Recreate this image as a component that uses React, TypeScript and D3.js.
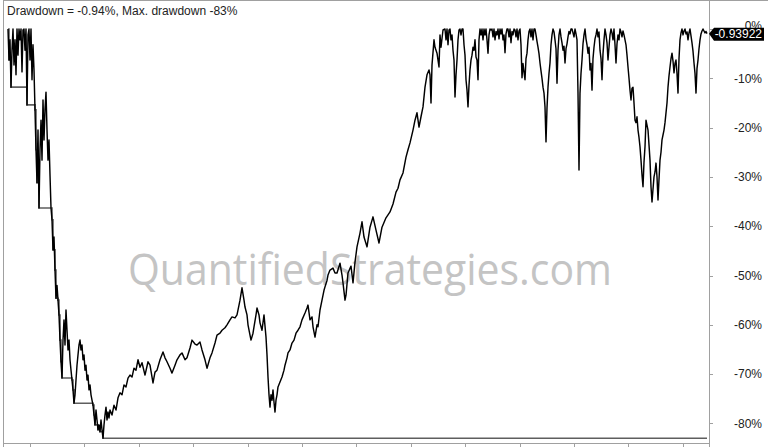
import React from 'react';
import * as d3 from 'd3';

const W = 768;
const H = 447;

const titleText = 'Drawdown = -0.94%, Max. drawdown -83%';
const lastValueLabel = '-0.93922';
const lastValue = -0.94;
const watermarkText = 'QuantifiedStrategies.com';
const yTickValues = [0, -10, -20, -30, -40, -50, -60, -70, -80];
const xTickWeeks = [22, 76, 131, 185, 240, 294, 348, 403, 457, 512, 566, 620, 675];

// [week index, drawdown %]
const drawdownSeries: [number, number][] = [
  [0, 0], [1, -6.3], [2, -2.2], [3, -11.8], [4, -4.3], [5, 0], [6, -7.3], [7, -2.2], [8, -9.3], [9, 0],
  [10, -5.3], [11, 0], [12, -2.2], [13, 0], [14, -8.7], [15, -0.2], [16, 0], [17, -4.3], [18, 0], [19, -15.4],
  [20, -1.2], [21, 0], [22, -6.3], [23, 0], [24, -10.3], [25, -3.2], [26, -8.3], [27, -16.4], [28, -24.5], [29, -31.2],
  [30, -20.5], [31, -36.3], [32, -24.5], [33, -18.5], [34, -26.6], [35, -14.4], [36, -22.5], [37, -16.4], [38, -12.8], [39, -20.5],
  [40, -26.6], [41, -22.5], [42, -29.6], [43, -36.3], [44, -38.7], [45, -44.8], [46, -42.2], [47, -48.9], [48, -54.6], [49, -52.0],
  [50, -55.0], [51, -58.0], [52, -63.1], [53, -67.5], [54, -70.8], [55, -63.1], [56, -59.0], [57, -64.1], [58, -57.0], [59, -61.1],
  [60, -65.1], [61, -63.1], [62, -67.1], [63, -69.2], [64, -71.2], [65, -73.2], [66, -75.9], [67, -74.2], [68, -71.2], [69, -68.2],
  [70, -66.1], [71, -64.1], [72, -63.1], [73, -65.1], [74, -64.1], [75, -67.1], [76, -66.1], [77, -69.2], [78, -68.2], [79, -71.2],
  [80, -70.2], [81, -73.2], [82, -72.2], [83, -74.2], [84, -75.3], [85, -76.3], [86, -78.3], [87, -80.3], [88, -77.3], [89, -79.3],
  [90, -81.3], [91, -80.3], [92, -81.7], [93, -79.3], [94, -81.3], [95, -83.0], [96, -80.3], [97, -78.3], [98, -76.7], [99, -79.3],
  [100, -77.7], [101, -78.9], [102, -77.3], [104, -78.3], [106, -76.3], [108, -77.3], [110, -74.8], [112, -73.8], [114, -74.2], [116, -72.2],
  [118, -72.6], [120, -70.8], [122, -70.2], [124, -70.6], [126, -68.8], [128, -69.2], [130, -67.1], [132, -68.6], [134, -67.7], [137, -70.2],
  [140, -67.5], [142, -68.2], [145, -71.8], [147, -69.6], [149, -69.2], [152, -67.1], [155, -65.5], [157, -66.7], [159, -67.5], [162, -68.8],
  [164, -69.8], [167, -68.2], [169, -67.1], [172, -66.1], [174, -65.7], [177, -67.1], [179, -66.7], [182, -64.7], [184, -63.1], [187, -63.9],
  [189, -64.1], [192, -63.5], [194, -65.1], [197, -67.1], [199, -68.8], [202, -66.7], [204, -65.7], [207, -63.7], [209, -62.1], [212, -61.7],
  [214, -61.1], [217, -60.6], [219, -60.0], [222, -59.0], [224, -58.4], [227, -58.6], [229, -58.0], [231, -56.0], [232, -55.0], [234, -52.5],
  [236, -55.0], [237, -56.4], [239, -58.0], [240, -60.0], [242, -62.1], [243, -63.1], [245, -61.7], [246, -60.4], [248, -58.0], [249, -56.6],
  [251, -58.0], [252, -59.6], [254, -61.1], [256, -58.0], [258, -62.5], [259, -66.1], [260, -70.6], [261, -74.2], [262, -76.7], [263, -74.2],
  [264, -75.3], [265, -73.2], [266, -75.7], [267, -77.7], [268, -75.3], [269, -74.2], [270, -72.6], [272, -71.6], [274, -70.6], [276, -69.2],
  [277, -68.2], [279, -66.7], [280, -65.7], [282, -65.1], [284, -63.7], [286, -63.1], [288, -61.7], [290, -61.1], [292, -60.4], [294, -59.0],
  [297, -57.6], [299, -56.6], [300, -56.0], [302, -59.0], [304, -58.4], [305, -60.4], [307, -62.5], [309, -60.0], [310, -60.4], [312, -57.0],
  [314, -55.0], [316, -53.0], [317, -52.3], [319, -51.0], [320, -49.9], [322, -48.9], [325, -48.5], [327, -49.5], [329, -49.5], [332, -47.5],
  [334, -49.9], [335, -51.5], [337, -55.0], [338, -54.0], [340, -49.5], [343, -48.1], [345, -51.5], [347, -47.3], [349, -44.2], [352, -41.4],
  [354, -39.1], [356, -42.2], [359, -44.2], [362, -40.2], [365, -38.1], [368, -40.8], [371, -43.4], [374, -40.2], [378, -38.3], [382, -37.1],
  [385, -35.5], [388, -33.1], [390, -32.3], [392, -30.6], [395, -29.2], [398, -26.0], [400, -24.5], [402, -23.1], [405, -20.5], [407, -18.5],
  [409, -17.0], [411, -19.9], [413, -17.8], [415, -15.8], [417, -11.8], [419, -9.3], [421, -8.3], [422, -9.3], [423, -15.0], [424, -7.3],
  [426, -2.2], [427, -3.7], [429, -4.9], [431, -7.7], [432, -1.2], [433, -3.7], [435, -0.2], [437, 0], [438, -2.2], [439, 0],
  [440, -3.2], [441, -0.2], [442, 0], [443, -2.2], [444, -1.2], [445, -4.3], [446, -6.3], [447, -13.8], [448, -9.3], [449, -6.3],
  [450, -2.2], [451, -0.2], [452, 0], [453, -1.2], [454, 0], [455, 0], [456, -3.2], [457, -5.3], [458, -10.3], [459, -12.4],
  [460, -15.8], [461, -11.4], [462, -8.3], [463, -6.3], [464, -5.3], [465, -3.7], [466, -4.3], [467, -2.2], [468, -5.7], [469, -6.3],
  [470, -10.3], [471, -2.2], [472, 0], [473, -1.2], [474, 0], [475, -2.2], [476, 0], [477, -1.2], [478, 0], [479, -2.2],
  [480, -4.9], [481, -1.2], [482, 0], [483, -0.2], [484, 0], [485, -1.6], [486, 0], [487, -2.2], [488, -0.5], [489, -1.2],
  [490, 0], [491, -2.0], [492, 0], [493, -1.0], [494, 0], [495, -2.2], [496, -1.2], [497, -4.8], [498, -1.0], [499, 0],
  [500, 0], [501, -1.6], [502, 0], [503, -2.8], [504, -0.5], [505, -1.2], [506, 0], [507, -0.2], [508, -1.6], [509, 0],
  [510, -2.2], [511, -0.4], [512, 0], [513, -3.2], [514, -9.9], [515, -7.0], [516, -8.7], [517, -10.3], [518, -6.0], [519, -4.9],
  [520, -2.2], [521, -0.5], [522, 0], [523, -1.6], [524, 0], [525, -2.2], [526, 0], [527, 0], [528, -1.2], [529, -2.5],
  [530, -3.7], [531, -5.0], [532, -6.9], [533, -8.5], [534, -10.0], [535, -11.8], [536, -13.0], [537, -15.8], [538, -22.9], [539, -16.0],
  [540, -11.8], [541, -9.0], [542, -6.9], [543, -3.2], [544, -1.2], [545, 0], [546, -0.6], [547, -2.2], [548, -4.0], [549, -11.0],
  [550, -4.3], [551, -1.2], [552, 0], [553, -1.6], [554, -2.8], [555, -4.3], [556, -3.5], [557, -6.9], [558, -4.0], [559, -3.0],
  [560, -1.6], [561, -0.5], [562, -1.0], [563, 0], [564, 0], [565, -0.8], [566, -1.6], [567, 0], [568, -1.0], [569, -2.2],
  [570, -13.0], [571, -28.6], [572, -13.0], [573, -9.0], [574, -6.3], [575, -3.0], [576, -1.2], [577, 0], [578, -2.0], [579, -3.2],
  [580, -4.9], [581, -3.7], [582, -8.3], [583, -7.0], [584, -12.4], [585, -6.0], [586, -3.7], [587, -2.0], [588, -1.2], [589, 0],
  [590, -1.6], [591, -0.6], [592, -4.3], [593, -6.0], [594, -10.3], [595, -5.0], [596, -2.2], [597, 0], [598, -1.2], [599, -2.8],
  [600, -6.3], [601, -3.7], [602, -1.2], [603, 0], [604, -0.8], [605, -2.2], [606, 0], [607, -3.2], [608, -6.9], [609, -3.0],
  [610, -1.2], [611, -2.2], [612, 0], [613, -0.6], [614, -1.6], [615, -0.4], [616, -1.2], [617, -2.2], [618, -3.2], [619, -5.3],
  [620, -7.7], [621, -10.0], [622, -12.4], [623, -14.4], [624, -12.0], [625, -11.8], [626, -15.0], [627, -18.5], [628, -19.0], [629, -17.8],
  [630, -20.5], [631, -22.0], [632, -23.9], [633, -26.6], [634, -29.6], [635, -32.0], [636, -27.0], [637, -23.9], [638, -18.5], [639, -19.5],
  [640, -20.5], [641, -23.5], [642, -26.6], [643, -32.0], [644, -35.1], [645, -32.5], [646, -30.0], [647, -29.0], [648, -27.2], [649, -30.0],
  [650, -34.7], [651, -30.5], [652, -26.6], [653, -25.0], [654, -22.5], [655, -21.5], [656, -20.5], [657, -19.0], [658, -17.0], [659, -15.0],
  [660, -11.8], [661, -9.5], [662, -7.7], [663, -6.0], [664, -4.9], [665, -6.5], [666, -8.9], [667, -7.0], [668, -6.3], [669, -9.0],
  [670, -13.0], [671, -6.0], [672, -2.2], [673, -0.8], [674, 0], [675, -1.2], [676, -0.4], [677, 0], [678, -1.0], [679, -0.6],
  [680, -2.2], [681, -0.8], [682, 0], [683, -1.4], [684, -2.8], [685, -4.5], [686, -6.9], [687, -9.0], [688, -13.0], [689, -8.0],
  [690, -6.3], [691, -4.0], [692, -2.2], [693, -1.0], [694, -0.4], [695, 0], [696, -0.4], [697, -0.8], [698, -0.5], [699, -0.94],
];

export default function App() {
  const x = d3.scaleLinear().domain([0, 699]).range([8, 707]);
  const y = d3.scaleLinear().domain([0, -80]).range([29, 423.4]);

  let runMin = 0;
  const maxDrawdown: [number, number][] = drawdownSeries.map(([t, v]) => {
    runMin = Math.min(runMin, v);
    return [t, runMin];
  });

  const ddLine = d3
    .line<[number, number]>()
    .x((d) => x(d[0]))
    .y((d) => y(d[1]));
  const stepLine = d3
    .line<[number, number]>()
    .x((d) => x(d[0]))
    .y((d) => y(d[1]))
    .curve(d3.curveStepAfter);

  const axisX = 709;
  const bottomY = 443;
  const frameColor = '#a0a0a0';
  const font = 'Arial, "Liberation Sans", sans-serif';
  const ly = y(lastValue);

  return (
    <svg
      width={W}
      height={H}
      style={{ position: 'absolute', left: 0, top: 0, background: '#fff' }}
      fontFamily={font}
    >
      <rect x={0} y={0} width={W} height={H} fill="#fff" />
      {/* frame */}
      <line x1={3.5} y1={0} x2={3.5} y2={H} stroke={frameColor} />
      <line x1={3} y1={0.5} x2={W} y2={0.5} stroke={frameColor} />
      <line x1={3} y1={bottomY + 0.5} x2={axisX} y2={bottomY + 0.5} stroke={frameColor} />
      <line x1={axisX + 0.5} y1={0} x2={axisX + 0.5} y2={H} stroke={frameColor} />

      {/* x ticks */}
      {xTickWeeks.map((t) => (
        <line
          key={t}
          x1={Math.round(x(t)) + 0.5}
          x2={Math.round(x(t)) + 0.5}
          y1={bottomY}
          y2={H}
          stroke={frameColor}
        />
      ))}

      {/* y ticks and labels */}
      {yTickValues.map((v) => (
        <g key={v}>
          <line
            x1={axisX}
            x2={axisX + 4}
            y1={Math.round(y(v)) + 0.5}
            y2={Math.round(y(v)) + 0.5}
            stroke={frameColor}
          />
          <text
            x={762}
            y={v === 0 ? y(v) - 3 : y(v)}
            dy="0.35em"
            textAnchor="end"
            fontSize={12}
            fill="#222"
          >
            {`${v}%`}
          </text>
        </g>
      ))}

      {/* watermark */}
      <text
        x={128}
        y={285}
        fontSize={44}
        fontFamily='"Open Sans", "Noto Sans", sans-serif'
        fill="#c4c4c4"
        textLength={484}
        lengthAdjust="spacingAndGlyphs"
      >
        {watermarkText}
      </text>

      {/* max drawdown step line */}
      <path d={stepLine(maxDrawdown) || ''} fill="none" stroke="#5e5e5e" strokeWidth={1.6} />

      {/* drawdown line */}
      <path d={ddLine(drawdownSeries) || ''} fill="none" stroke="#000" strokeWidth={1.45} strokeLinejoin="round" />

      {/* last value marker */}
      <path
        d={`M${axisX},${ly} L${axisX + 5},${ly - 6} L${764},${ly - 6} L${764},${ly + 7} L${axisX + 5},${ly + 7} Z`}
        fill="#000"
      />
      <text x={762} y={ly} dy="0.38em" textAnchor="end" fontSize={12} fill="#fff">
        {lastValueLabel}
      </text>

      {/* title */}
      <text x={7} y={15} fontSize={12} fill="#222">
        {titleText}
      </text>
    </svg>
  );
}
